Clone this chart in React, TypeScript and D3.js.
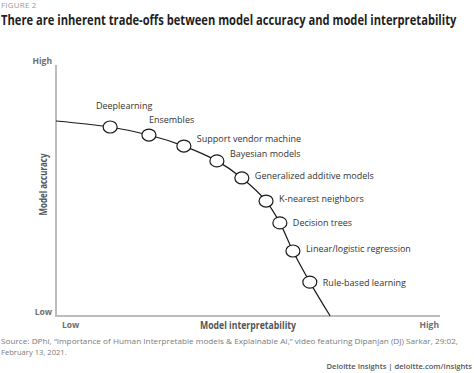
import * as d3 from "d3";
import { useRef, useEffect } from "react";

// model families along the trade-off curve
const models = [
  "Deeplearning",
  "Ensembles",
  "Support vendor machine",
  "Bayesian models",
  "Generalized additive models",
  "K-nearest neighbors",
  "Decision trees",
  "Linear/logistic regression",
  "Rule-based learning",
];
// interpretability (0-100) and accuracy (0-100)
const interpretability = [14.1, 24.2, 33.3, 41.9, 48.4, 54.7, 58.3, 61.7, 66.1];
const accuracy = [75.3, 72.1, 67.7, 61.8, 55.0, 45.8, 37.1, 25.9, 13.5];
// where the curve enters and leaves the plot
const curveStart = [0, 77.7];
const curveEnd = [71.4, 0];
const axisTicks = ["Low", "High"];

if (typeof document !== "undefined") document.body.style.margin = "0";

const W = 474;
const H = 373;
const plot = { left: 56, right: 440, top: 65, bottom: 316 };
const font = "'Open Sans', 'Noto Sans', sans-serif";

export default function App() {
  const titleRef = useRef<SVGTextElement>(null);

  const x = d3.scaleLinear().domain([0, 100]).range([plot.left, plot.right]);
  const y = d3.scaleLinear().domain([0, 100]).range([plot.bottom, plot.top]);

  // squeeze the title horizontally (the original uses a condensed face)
  useEffect(() => {
    const t = titleRef.current;
    if (!t) return;
    const w = t.getComputedTextLength();
    if (w > 0) d3.select(t).attr("transform", `translate(1,25) scale(${455 / w},1)`);
  }, []);

  const pts: [number, number][] = [
    curveStart as [number, number],
    ...interpretability.map((v, i) => [v, accuracy[i]] as [number, number]),
    curveEnd as [number, number],
  ];
  const line = d3
    .line<[number, number]>()
    .x((d) => x(d[0]))
    .y((d) => y(d[1]))
    .curve(d3.curveCatmullRom.alpha(0.5));

  // label offsets relative to each marker
  const labelPos = (i: number) => {
    const cx = x(interpretability[i]);
    const cy = y(accuracy[i]);
    if (i === 0) return { x: cx + 14, y: cy - 20, anchor: "middle" };
    if (i === 1) return { x: cx, y: cy - 14, anchor: "start" };
    const dy = [0, 0, -6, -6, -1, -1, 1, -1, 1][i];
    return { x: cx + 13, y: cy + dy, anchor: "start" };
  };

  return (
    <svg width={W} height={H} style={{ display: "block" }} fontFamily={font}>
      <rect width={W} height={H} fill="#fff" />
      <text x={1} y={8} fontSize={8} fill="#9a9a9a" letterSpacing={0.2}>
        FIGURE 2
      </text>
      <text
        ref={titleRef}
        transform="translate(1,25) scale(0.8,1)"
        fontSize={14}
        fontWeight={700}
        fill="#1f1f1f"
      >
        There are inherent trade-offs between model accuracy and model interpretability
      </text>

      {/* axes */}
      <line x1={plot.left} x2={plot.left} y1={plot.top} y2={plot.bottom + 1} stroke="#bdbdbd" strokeWidth={2} />
      <line x1={plot.left - 1} x2={plot.right} y1={plot.bottom} y2={plot.bottom} stroke="#bdbdbd" strokeWidth={2} />

      <g fontSize={8.5} fontWeight={700} fill="#6e6e6e">
        <text x={plot.left - 4} y={y(100) - 3} textAnchor="end" dominantBaseline="middle">
          {axisTicks[1]}
        </text>
        <text x={plot.left - 4} y={y(0) - 3} textAnchor="end" dominantBaseline="middle">
          {axisTicks[0]}
        </text>
        <text x={plot.left + 6} y={plot.bottom + 10} dominantBaseline="middle">
          {axisTicks[0]}
        </text>
        <text x={plot.right - 1} y={plot.bottom + 10} textAnchor="end" dominantBaseline="middle">
          {axisTicks[1]}
        </text>
      </g>
      <text
        x={(plot.left + plot.right) / 2}
        y={plot.bottom + 10}
        textAnchor="middle"
        dominantBaseline="middle"
        fontSize={10}
        fontWeight={700}
        fill="#555"
        textLength={96}
        lengthAdjust="spacingAndGlyphs"
      >
        Model interpretability
      </text>
      <text
        transform={`translate(44, ${(plot.top + plot.bottom) / 2 - 6}) rotate(-90)`}
        textAnchor="middle"
        dominantBaseline="middle"
        fontSize={10}
        fontWeight={700}
        fill="#555"
        textLength={62}
        lengthAdjust="spacingAndGlyphs"
      >
        Model accuracy
      </text>

      {/* trade-off curve */}
      <path d={line(pts) ?? ""} fill="none" stroke="#1a1a1a" strokeWidth={1.2} />
      {models.map((m, i) => (
        <ellipse
          key={m}
          cx={x(interpretability[i])}
          cy={y(accuracy[i])}
          rx={7}
          ry={6}
          fill="#fff"
          stroke="#1a1a1a"
          strokeWidth={1.2}
        />
      ))}
      {models.map((m, i) => {
        const p = labelPos(i);
        return (
          <text
            key={m}
            x={p.x}
            y={p.y}
            textAnchor={p.anchor}
            dominantBaseline="middle"
            fontSize={9}
            fill="#333"
          >
            {m}
          </text>
        );
      })}

      {/* footer */}
      <g fontSize={7.6} fill="#7a7a7a">
        <text x={1} y={344} textLength={457} lengthAdjust="spacingAndGlyphs">
          Source: DPhi, “Importance of Human Interpretable models &amp; Explainable AI,” video featuring Dipanjan (DJ) Sarkar, 29:02,
        </text>
        <text x={1} y={355}>February 13, 2021.</text>
      </g>
      <text x={472} y={369} textAnchor="end" fontSize={7.6} fill="#555" fontWeight={600}>
        Deloitte Insights | deloitte.com/insights
      </text>
    </svg>
  );
}
